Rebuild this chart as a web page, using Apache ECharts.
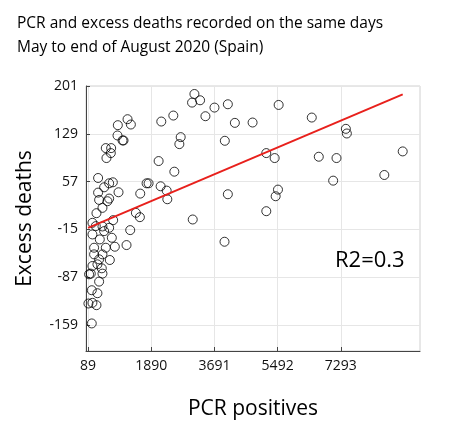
<!DOCTYPE html>
<html>
<head>
<meta charset="utf-8">
<script src="https://cdn.jsdelivr.net/npm/echarts@6/dist/echarts.min.js"></script>
<style>html,body{margin:0;padding:0;background:#fff}#c{width:474px;height:435px}</style>
</head>
<body>
<div id="c"></div>
<script>
// ticks shown on the axes
var xTicks = [89, 1890, 3691, 5492, 7293];
var yTicks = [-159, -87, -15, 57, 129, 201];

// PCR positives vs excess deaths
var pcr = [957, 3120, 3053, 3282, 3692, 4073, 2519, 3434, 2176, 4273, 4778, 1214, 937, 1309, 928, 1071, 1100, 2729, 2691, 3987,
  594, 747, 737, 613, 2100, 2548, 375, 795, 690, 547, 375, 957, 1757, 1814, 2157, 2329, 2348, 1576, 4073, 404,
  690, 642, 499, 328, 1452, 1566, 3072, 213, 804, 499, 690, 1290, 423, 766, 213, 3978, 1185, 852, 594, 261,
  499, 709, 404, 213, 480, 166, 499, 404, 194, 356, 99, 213, 328, 194, 118, 309, 547, 261, 356,
  5169, 5169, 5407, 5521, 5502, 5436, 6465, 7437, 7465, 6665, 7170, 9057, 8533, 7075];
var deaths = [201.5, 189, 176, 179.5, 168.5, 173.5, 156.5, 155.5, 147.5, 145.5, 146, 151, 142, 143, 126.5, 119, 119, 124, 113.5, 118.5,
  107.5, 107.5, 100, 92.5, 88, 72, 62.5, 56, 54.5, 48.5, 40.5, 41, 54.5, 54.5, 50, 43.5, 30.5, 39, 38, 29.5,
  31.5, 27.5, 17.5, 9.5, 10, 3.5, 0, -5, -1, -10.5, -12.5, -16, -30, -27.5, -22.5, -33.5, -38.5, -41, -42.5, -52.5,
  -52.5, -61, -60, -70, -73.5, -81.5, -81.5, -93.5, -106.5, -111, -126.5, -125.5, -129, -156.5, -82.5, -10, -17.5, -42.5, -67.5,
  100, 12.5, 92.5, 172.5, 45, 35, 153.5, 136.5, 129.5, 94.5, 92.5, 102.5, 67, 58.5];

// regression line end points
var fitX = [89, 9057];
var fitY = [-12.5, 188.5];

var points = pcr.map(function (x, i) { return [x, deaths[i]]; });
var fit = fitX.map(function (x, i) { return [x, fitY[i]]; });

var font = '"Open Sans", "Liberation Sans", sans-serif';
var plain = function (v) { return String(v); };
var myChart = echarts.init(document.getElementById('c'));
myChart.setOption({
    animation: false,
    backgroundColor: '#fff',
    title: [{
        text: 'PCR and excess deaths recorded on the same days\nMay to end of August 2020 (Spain)',
        left: 12, top: 7,
        textStyle: { fontFamily: font, fontSize: 15.5, fontWeight: 'normal', color: '#000', lineHeight: 24 }
    }, {
        text: 'R2=0.3',
        left: 330, top: 245,
        textStyle: { fontFamily: font, fontSize: 22, fontWeight: 'normal', color: '#000' }
    }],
    grid: { left: 86, right: 54, top: 86, bottom: 84, show: true, borderColor: '#d0d0d0', borderWidth: 1 },
    xAxis: {
        type: 'value', min: 30, max: 9550,
        name: 'PCR positives', nameLocation: 'middle', nameGap: 48,
        nameTextStyle: { fontFamily: font, fontSize: 21, color: '#000' },
        axisLine: { show: true, onZero: false, lineStyle: { color: '#444' } },
        axisTick: { show: true, customValues: xTicks, inside: true, length: 4, lineStyle: { color: '#444' } },
        axisLabel: { customValues: xTicks, formatter: plain, fontFamily: font, fontSize: 14, color: '#111' },
        splitLine: { show: true, lineStyle: { color: '#e6e6e6' } }
    },
    yAxis: {
        type: 'value', min: -198, max: 201,
        name: 'Excess deaths', nameLocation: 'middle', nameGap: 50,
        nameTextStyle: { fontFamily: font, fontSize: 21, color: '#000' },
        axisLine: { show: true, onZero: false, lineStyle: { color: '#444' } },
        axisTick: { show: true, customValues: yTicks, inside: true, length: 4, lineStyle: { color: '#444' } },
        axisLabel: { customValues: yTicks, formatter: plain, fontFamily: font, fontSize: 14, color: '#111' },
        splitLine: { show: true, lineStyle: { color: '#e6e6e6' } }
    },
    series: [{
        type: 'scatter',
        data: points,
        symbol: 'circle', symbolSize: 9,
        itemStyle: { color: 'rgba(0,0,0,0)', borderColor: '#000', borderWidth: 1 },
        z: 3
    }, {
        type: 'line',
        data: fit,
        symbol: 'none',
        lineStyle: { color: '#e8201c', width: 2 },
        z: 4
    }]
});
</script>
</body>
</html>
